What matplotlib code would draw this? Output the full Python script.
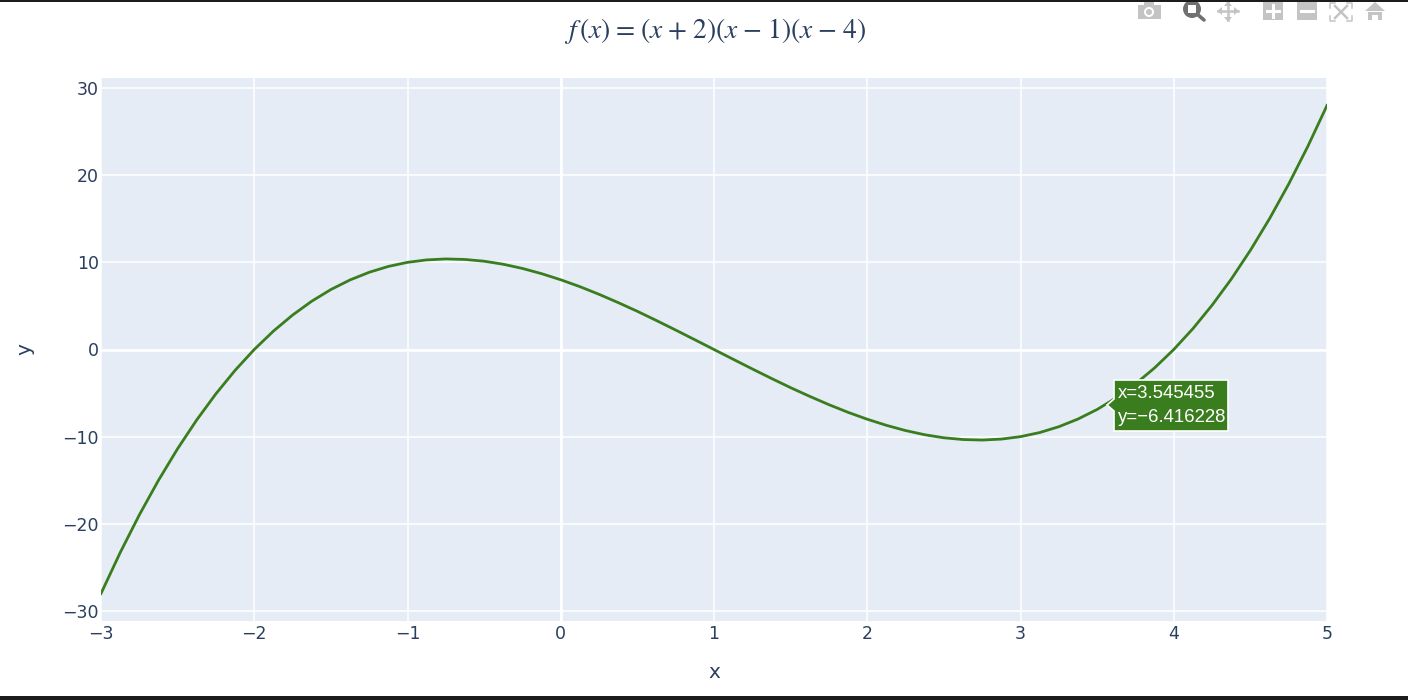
import matplotlib
matplotlib.use("Agg")
import matplotlib.pyplot as plt
from matplotlib.patches import Rectangle, Polygon, Circle

# values, every 0.125 in x
x_vals = [-3, -2.875, -2.75, -2.625, -2.5, -2.375, -2.25, -2.125, -2, -1.875, -1.75, -1.625,
          -1.5, -1.375, -1.25, -1.125, -1, -0.875, -0.75, -0.625, -0.5, -0.375, -0.25, -0.125,
          0, 0.125, 0.25, 0.375, 0.5, 0.625, 0.75, 0.875, 1, 1.125, 1.25, 1.375,
          1.5, 1.625, 1.75, 1.875, 2, 2.125, 2.25, 2.375, 2.5, 2.625, 2.75, 2.875,
          3, 3.125, 3.25, 3.375, 3.5, 3.625, 3.75, 3.875, 4, 4.125, 4.25, 4.375,
          4.5, 4.625, 4.75, 4.875, 5]
y_vals = [-28, -23.31, -18.98, -15.01, -11.38, -8.07, -5.08, -2.39, 0, 2.11, 3.95, 5.54,
          6.88, 7.98, 8.86, 9.53, 10, 10.28, 10.39, 10.33, 10.13, 9.78, 9.3, 8.7,
          8, 7.21, 6.33, 5.38, 4.38, 3.32, 2.23, 1.12, 0, -1.12, -2.23, -3.32,
          -4.38, -5.38, -6.33, -7.21, -8, -8.7, -9.3, -9.78, -10.13, -10.33, -10.39, -10.28,
          -10, -9.53, -8.86, -7.98, -6.88, -5.54, -3.95, -2.11, 0, 2.39, 5.08, 8.07,
          11.38, 15.01, 18.98, 23.31, 28]
x_ticks = [-3, -2, -1, 0, 1, 2, 3, 4, 5]
y_ticks = [-30, -20, -10, 0, 10, 20, 30]
hover_x = "3.545455"
hover_y = "\u22126.416228"
title_text = (r"$f\,(x)\hspace{0.1}=\hspace{0.1}(x\hspace{0.1}+\hspace{0.1}2)"
              r"(x\hspace{0.1}-\hspace{0.1}1)(x\hspace{0.1}-\hspace{0.1}4)$")

LINE = "#3a7d1e"
INK = "#2a3f5f"
W, H = 1408, 700

plt.rcParams["mathtext.fontset"] = "stix"
plt.rcParams["font.family"] = "DejaVu Sans"

fig = plt.figure(figsize=(W / 100, H / 100), dpi=100, facecolor="white")
ax = fig.add_axes([101 / W, 1 - 621 / H, 1226 / W, 543 / H], facecolor="#e5ecf6")

ax.plot(x_vals, y_vals, color=LINE, lw=2.0, zorder=3)
ax.set_xlim(-3, 5)
ax.set_ylim(-31.15, 31.15)
ax.set_xticks(x_ticks)
ax.set_yticks(y_ticks)
ax.set_xticklabels([str(t).replace("-", "\u2212") for t in x_ticks])
ax.set_yticklabels([str(t).replace("-", "\u2212") for t in y_ticks])
ax.grid(color="white", lw=1.1, zorder=1)
ax.set_axisbelow(True)
ax.axhline(0, color="white", lw=1.9, zorder=2)
ax.axvline(0, color="white", lw=1.9, zorder=2)
for s in ax.spines.values():
    s.set_visible(False)
ax.tick_params(length=0, colors=INK, labelsize=12.5)
ax.tick_params(axis="x", pad=3)
ax.tick_params(axis="y", pad=1.5)
ax.set_xlabel("x", fontsize=14.5, color=INK, va="center")
ax.set_ylabel("y", fontsize=14.5, color=INK, va="center")
ax.xaxis.set_label_coords(0.5, -0.094)
ax.yaxis.set_label_coords(-0.062, 0.5)

fig.text(715 / W, 1 - 31 / H, title_text, fontsize=19.8, color=INK, ha="center", va="center")

# overlay in image pixels for the hover box, modebar and screenshot edges
ov = fig.add_axes([0, 0, 1, 1], facecolor="none")
ov.set_xlim(0, W)
ov.set_ylim(H, 0)
ov.axis("off")

# hover label
ov.add_patch(Polygon([(1114, 380), (1228, 380), (1228, 431), (1114, 431), (1114, 411),
                      (1107, 405), (1114, 399)],
                     facecolor=LINE, edgecolor="white", lw=1.2, zorder=5))
ov.text(1118, 394, f"x={hover_x}", color="white", fontsize=13.4, family="Liberation Sans",
        va="center", ha="left", zorder=6)
ov.text(1118, 418, f"y={hover_y}", color="white", fontsize=13.4, family="Liberation Sans",
        va="center", ha="left", zorder=6)

# modebar icons
GREY = "#c4c4c4"
DARK = "#707070"
# camera
ov.add_patch(Rectangle((1138, 5), 23, 14, facecolor=GREY, edgecolor="none"))
ov.add_patch(Rectangle((1144, 2), 10, 4, facecolor=GREY, edgecolor="none"))
ov.add_patch(Circle((1149, 12), 5, facecolor="white", edgecolor="none"))
ov.add_patch(Circle((1149, 12), 3, facecolor=GREY, edgecolor="none"))
# zoom
ov.add_patch(Circle((1192, 9), 9, facecolor=DARK, edgecolor="none"))
ov.add_patch(Rectangle((1188, 5), 8, 8, facecolor="white", edgecolor="none"))
ov.plot([1197, 1204], [14, 20], color=DARK, lw=2.6, solid_capstyle="round")
# pan
ov.plot([1218, 1238], [11, 11], color=GREY, lw=1.8)
ov.plot([1228, 1228], [2, 20], color=GREY, lw=1.8)
for pts in ([(1217, 11), (1222, 7), (1222, 15)], [(1239, 11), (1234, 7), (1234, 15)],
            [(1228, 22), (1224, 17), (1232, 17)], [(1228, 1), (1224, 6), (1232, 6)]):
    ov.add_patch(Polygon(pts, facecolor=GREY, edgecolor="none"))
# zoom in / out
ov.add_patch(Rectangle((1263, 2), 20, 18, facecolor=GREY, edgecolor="none"))
ov.plot([1267, 1279], [11, 11], color="white", lw=2.2)
ov.plot([1273, 1273], [5, 17], color="white", lw=2.2)
ov.add_patch(Rectangle((1297, 2), 20, 18, facecolor=GREY, edgecolor="none"))
ov.plot([1301, 1313], [11, 11], color="white", lw=2.2)
# autoscale
for xs, ys in (([1330, 1330, 1335], [8, 3, 3]), ([1347, 1352, 1352], [3, 3, 8]),
               ([1330, 1330, 1335], [16, 21, 21]), ([1347, 1352, 1352], [21, 21, 16])):
    ov.plot(xs, ys, color=GREY, lw=1.1)
ov.plot([1335, 1347], [6, 18], color=GREY, lw=1.8)
ov.plot([1335, 1347], [18, 6], color=GREY, lw=1.8)
# home
ov.add_patch(Polygon([(1365, 11), (1375, 2), (1385, 11)], facecolor=GREY, edgecolor="none"))
ov.add_patch(Polygon([(1368, 12), (1382, 12), (1382, 20), (1378, 20), (1378, 15),
                      (1372, 15), (1372, 20), (1368, 20)], facecolor=GREY, edgecolor="none"))

# dark screenshot edges
ov.add_patch(Rectangle((0, 0), W, 2, facecolor="#1c1c1c", edgecolor="none", zorder=8))
ov.add_patch(Rectangle((0, 696), W, 4, facecolor="#1c1c1c", edgecolor="none", zorder=8))

fig.savefig("out.png", dpi=100)
